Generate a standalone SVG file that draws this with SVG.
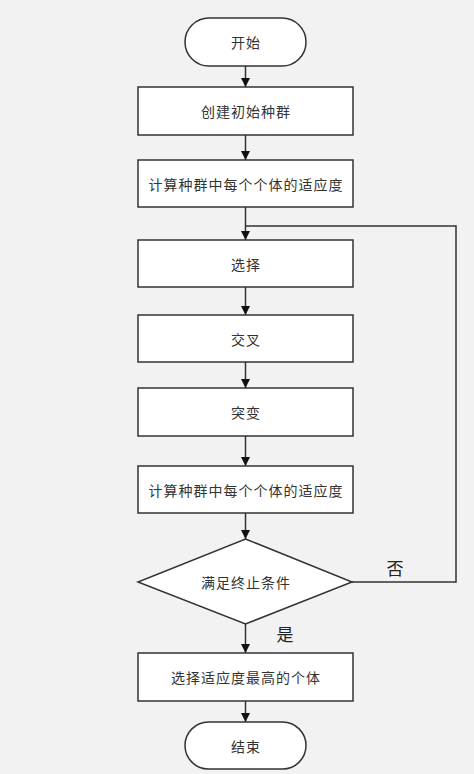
<svg xmlns="http://www.w3.org/2000/svg" width="474" height="774" viewBox="0 0 474 774">
<style>
.s{fill:#fff;stroke:#333;stroke-width:1.5}
.t{font-family:"Noto Sans CJK SC","Noto Sans",sans-serif;font-size:14px;letter-spacing:1px;fill:#333;text-anchor:middle;dominant-baseline:central}
.l{font-family:"Noto Sans CJK SC","Noto Sans",sans-serif;font-size:17px;fill:#222;text-anchor:middle;dominant-baseline:central}
.c{fill:none;stroke:#333;stroke-width:1.5}
</style>
<defs>
<marker id="a" viewBox="0 0 10 10" refX="10" refY="5" markerWidth="9" markerHeight="9" markerUnits="userSpaceOnUse" orient="auto">
<path d="M0,0L10,5L0,10z" fill="#111"/>
</marker>
</defs>
<rect width="474" height="774" fill="#f2f2f2"/>
<g id="connectors">
<line class="c" x1="245.5" y1="66" x2="245.5" y2="87" marker-end="url(#a)"/>
<line class="c" x1="245.5" y1="135" x2="245.5" y2="160" marker-end="url(#a)"/>
<line class="c" x1="245.5" y1="207" x2="245.5" y2="240" marker-end="url(#a)"/>
<line class="c" x1="245.5" y1="287" x2="245.5" y2="315" marker-end="url(#a)"/>
<line class="c" x1="245.5" y1="362" x2="245.5" y2="388" marker-end="url(#a)"/>
<line class="c" x1="245.5" y1="436" x2="245.5" y2="466" marker-end="url(#a)"/>
<line class="c" x1="245.5" y1="513" x2="245.5" y2="539" marker-end="url(#a)"/>
<line class="c" x1="245.5" y1="624" x2="245.5" y2="653" marker-end="url(#a)"/>
<line class="c" x1="245.5" y1="701" x2="245.5" y2="722" marker-end="url(#a)"/>
<polyline class="c" points="352,582 456,582 456,226 245.5,226"/>
<text class="l" x="395" y="567">否</text>
<text class="l" x="285" y="633">是</text>
</g>
<g id="start"><rect class="s" x="185" y="18" width="121" height="48" rx="24"/><text class="t" x="246" y="42">开始</text></g>
<g id="init"><rect class="s" x="138" y="87" width="215" height="48"/><text class="t" x="246" y="111">创建初始种群</text></g>
<g id="fit1"><rect class="s" x="138" y="160" width="215" height="47"/><text class="t" x="246" y="183.5">计算种群中每个个体的适应度</text></g>
<g id="select"><rect class="s" x="138" y="240" width="215" height="47"/><text class="t" x="246" y="263.5">选择</text></g>
<g id="cross"><rect class="s" x="138" y="315" width="215" height="47"/><text class="t" x="246" y="338.5">交叉</text></g>
<g id="mutate"><rect class="s" x="138" y="388" width="215" height="48"/><text class="t" x="246" y="412">突变</text></g>
<g id="fit2"><rect class="s" x="138" y="466" width="215" height="47"/><text class="t" x="246" y="489.5">计算种群中每个个体的适应度</text></g>
<g id="cond"><polygon class="s" points="245.5,539 352,582 245.5,624 138,582"/><text class="t" x="246" y="582">满足终止条件</text></g>
<g id="best"><rect class="s" x="138" y="653" width="215" height="48"/><text class="t" x="246" y="677">选择适应度最高的个体</text></g>
<g id="end"><rect class="s" x="185" y="722" width="121" height="47" rx="23.5"/><text class="t" x="246" y="745.5">结束</text></g>
</svg>
